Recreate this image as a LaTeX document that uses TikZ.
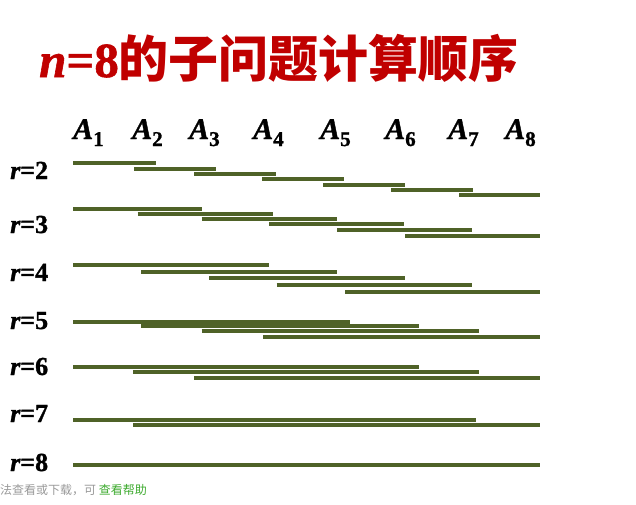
\documentclass[tikz,border=0pt]{standalone}
\usepackage{fontspec}
\setmainfont{Liberation Serif}[BoldFeatures={FakeBold=1.2}, BoldItalicFeatures={FakeBold=1.2}]
\newfontfamily\cjk{Noto Sans CJK SC}
\definecolor{titlered}{HTML}{C00000}
\definecolor{segolive}{HTML}{4F6228}
\definecolor{notegray}{HTML}{999999}
\definecolor{notegreen}{HTML}{3DAA2E}
\newcommand{\rlabel}[1]{\fontsize{26}{26}\selectfont\bfseries{\itshape r}=#1}
\newcommand{\alabel}[1]{\fontsize{30}{30}\selectfont\bfseries{\itshape A}\raisebox{-7pt}{\fontsize{21}{21}\selectfont #1}}
\begin{document}
\begin{tikzpicture}[x=1pt, y=-1pt, seg/.style = {draw=segolive, line width=4pt},
  lab/.style = {anchor=base west, inner sep=0pt}]
\useasboundingbox (0,0) rectangle (636,504);
\node[lab, text=titlered] (title) at (39,77) {\fontsize{49}{49}\selectfont{\bfseries\itshape n}{\bfseries =8}{\cjk\bfseries\fontsize{50}{50}\selectfont 的子问题计算顺序}};
\node[lab] (a1) at (73,139) {\alabel{1}};
\node[lab] (a2) at (132,139) {\alabel{2}};
\node[lab] (a3) at (189,139) {\alabel{3}};
\node[lab] (a4) at (253,139) {\alabel{4}};
\node[lab] (a5) at (320,139) {\alabel{5}};
\node[lab] (a6) at (385,139) {\alabel{6}};
\node[lab] (a7) at (448,139) {\alabel{7}};
\node[lab] (a8) at (505,139) {\alabel{8}};
\node[lab] (r2) at (10,179) {\rlabel{2}};
\node[lab] (r3) at (10,233) {\rlabel{3}};
\node[lab] (r4) at (10,281) {\rlabel{4}};
\node[lab] (r5) at (10,329) {\rlabel{5}};
\node[lab] (r6) at (10,375) {\rlabel{6}};
\node[lab] (r7) at (10,422) {\rlabel{7}};
\node[lab] (r8) at (10,471) {\rlabel{8}};
% r=2
\draw[seg] (73,163) -- (156,163);
\draw[seg] (134,169) -- (216,169);
\draw[seg] (194,174) -- (276,174);
\draw[seg] (262,179) -- (344,179);
\draw[seg] (323,185) -- (405,185);
\draw[seg] (391,190) -- (473,190);
\draw[seg] (459,195) -- (540,195);
% r=3
\draw[seg] (73,209) -- (201.5,209);
\draw[seg] (137.5,214) -- (273,214);
\draw[seg] (201.5,219) -- (336.6,219);
\draw[seg] (269,224) -- (404,224);
\draw[seg] (337,230) -- (472,230);
\draw[seg] (405,236) -- (540,236);
% r=4
\draw[seg] (73,265) -- (269,265);
\draw[seg] (141,272) -- (336.6,272);
\draw[seg] (209,278) -- (405,278);
\draw[seg] (276.6,285) -- (472,285);
\draw[seg] (345,292) -- (540,292);
% r=5
\draw[seg] (73,322) -- (350,322);
\draw[seg] (141,326) -- (418.5,326);
\draw[seg] (201.5,331) -- (479,331);
\draw[seg] (263,337) -- (540,337);
% r=6
\draw[seg] (73,367) -- (418.5,367);
\draw[seg] (133.4,372) -- (479,372);
\draw[seg] (194,378) -- (540,378);
% r=7
\draw[seg] (73,420) -- (475.7,420);
\draw[seg] (133.4,425) -- (540,425);
% r=8
\draw[seg] (73,465) -- (540,465);
\node[lab, text=notegray] (note) at (0,494) {\cjk\fontsize{12}{12}\selectfont 法查看或下载，可 \textcolor{notegreen}{查看帮助}};
\end{tikzpicture}
\end{document}
